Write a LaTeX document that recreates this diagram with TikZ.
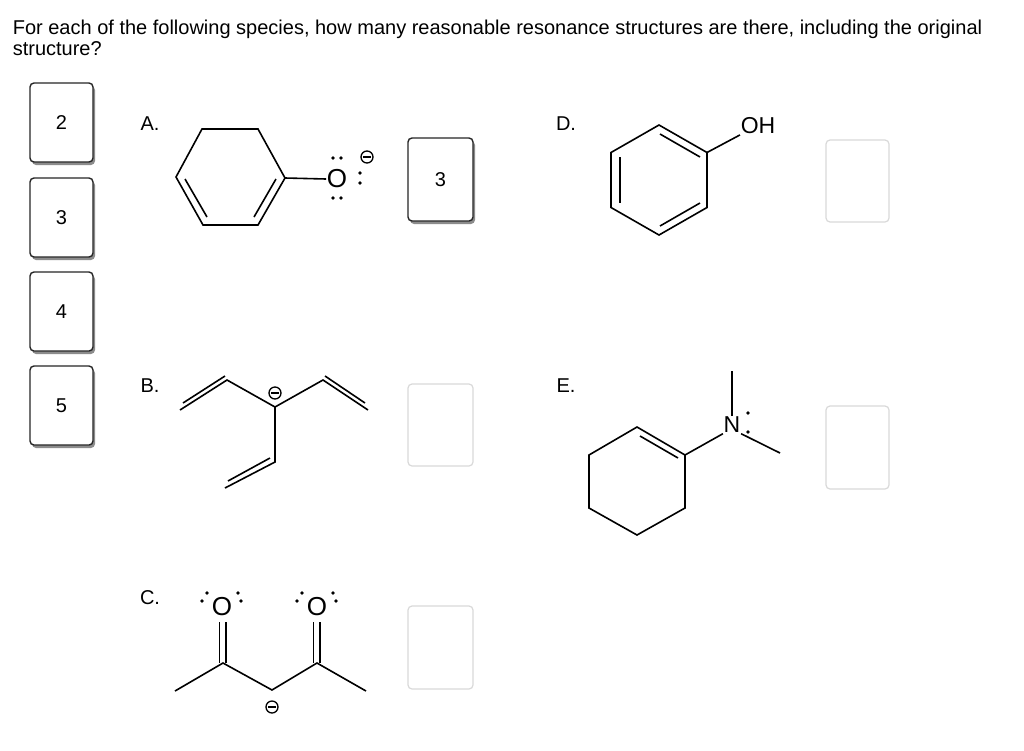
\documentclass[tikz,border=0pt]{standalone}
\usepackage{fontspec}
\setmainfont{Liberation Sans}
\begin{document}
\begin{tikzpicture}[x=1pt,y=-1pt,line width=1.6pt,
  dk/.style={draw=black!85,line width=1.4pt,rounded corners=4pt,fill=white},
  lt/.style={draw=black!15,line width=1.2pt,rounded corners=4pt},
  lbl/.style={font=\fontsize{20}{24}\selectfont,inner sep=0pt},
  atom/.style={font=\fontsize{26}{28}\selectfont,inner sep=0pt},
  minus/.style={draw=black,line width=1.3pt,circle,minimum size=12pt,inner sep=0pt}]
\useasboundingbox (0,0) rectangle (1024,750);
\fill[white] (0,0) rectangle (1024,750);
% title
\node[lbl,anchor=base west] (t1) at (12,34) {For each of the following species, how many reasonable resonance structures are there, including the original};
\node[lbl,anchor=base west] (t2) at (12,55) {structure?};
% left tiles
\foreach \y/\n in {83/2,178/3,272/4,366/5}{
  \fill[black!45,rounded corners=4pt] (32,\y+3) rectangle (95,\y+82);
  \draw[dk] (30,\y) rectangle (93,\y+79);
  \node[lbl] (tile\n) at (61.5,\y+39.5) {\n};
}
% answer boxes
\fill[black!45,rounded corners=4pt] (410,141) rectangle (475,224);
\draw[dk] (408,138) rectangle (473,221);
\node[lbl] (ansA) at (440.5,180) {3};
\draw[lt] (408,384) rectangle (473,466);
\draw[lt] (408,606) rectangle (473,689);
\draw[lt] (826,140) rectangle (889,222);
\draw[lt] (826,406) rectangle (889,489);
% labels
\node[lbl] (la) at (150,124) {A.};
\node[lbl] (lb) at (150,386) {B.};
\node[lbl] (lc) at (150,598) {C.};
\node[lbl] (ld) at (566,124) {D.};
\node[lbl] (le) at (566,386) {E.};
% A
\draw (202,129) -- (258,129) -- (285,178) -- (258,225) -- (203,225) -- (176,177) -- cycle;
\draw (185,179) -- (207,217);
\draw (276,179) -- (254,217);
\node[atom] (Oa) at (337,179) {O};
\draw (285,178) -- (Oa.west);
\foreach \p in {(333,158),(341,158),(333,198),(341,198),(360,173),(360,183)} \fill \p circle (1.8pt);
\node[minus] (ma) at (367,157) {}; \draw[line width=1.3pt] (363,157) -- (371,157);
% B
\draw (180,410) -- (227,380) -- (275,407) -- (323,380) -- (368,410);
\draw (183,403) -- (225,376);
\draw (365,403) -- (325,376);
\draw (275,407) -- (275,462) -- (225,488);
\draw (270,458) -- (228,481);
\node[minus] (mb) at (275,393) {}; \draw[line width=1.3pt] (271,393) -- (279,393);
% C
\node[atom] (O1) at (222,607) {O};
\node[atom] (O2) at (317,607) {O};
\draw (175,691) -- (223,663) -- (272,690) -- (317,663) -- (366,691);
\draw (219.5,663) -- (219.5,622); \draw (226,663) -- (226,622);
\draw (313.5,663) -- (313.5,622); \draw (320,663) -- (320,622);
\foreach \p in {(207,593),(202,601),(238,593),(241,601),(302,593),(297,601),(333,593),(336,601)} \fill \p circle (1.8pt);
\node[minus] (mc) at (272,707) {}; \draw[line width=1.3pt] (268,707) -- (276,707);
% D
\draw (659,125) -- (707,152.5) -- (707,207.5) -- (659,235) -- (611,207.5) -- (611,152.5) -- cycle;
\draw (620,157) -- (620,203);
\draw (660,134) -- (700,157);
\draw (700,203) -- (660,226);
\node[inner sep=0pt,font=\fontsize{23}{25}\selectfont] (OH) at (758,126) {OH};
\draw (707,152.5) -- (OH.south west);
% E
\draw (637,427) -- (685,455) -- (685,508) -- (637,535) -- (589,508) -- (589,455) -- cycle;
\draw (640,436) -- (678,458);
\node[inner sep=0pt,font=\fontsize{23}{25}\selectfont] (N) at (732,425) {N};
\draw (685,455) -- (N.south west);
\draw (732,371) -- (N.north);
\draw (N.south east) -- (780,453);
\fill (748,413) circle (1.8pt); \fill (748,432) circle (1.8pt);
\end{tikzpicture}
\end{document}
